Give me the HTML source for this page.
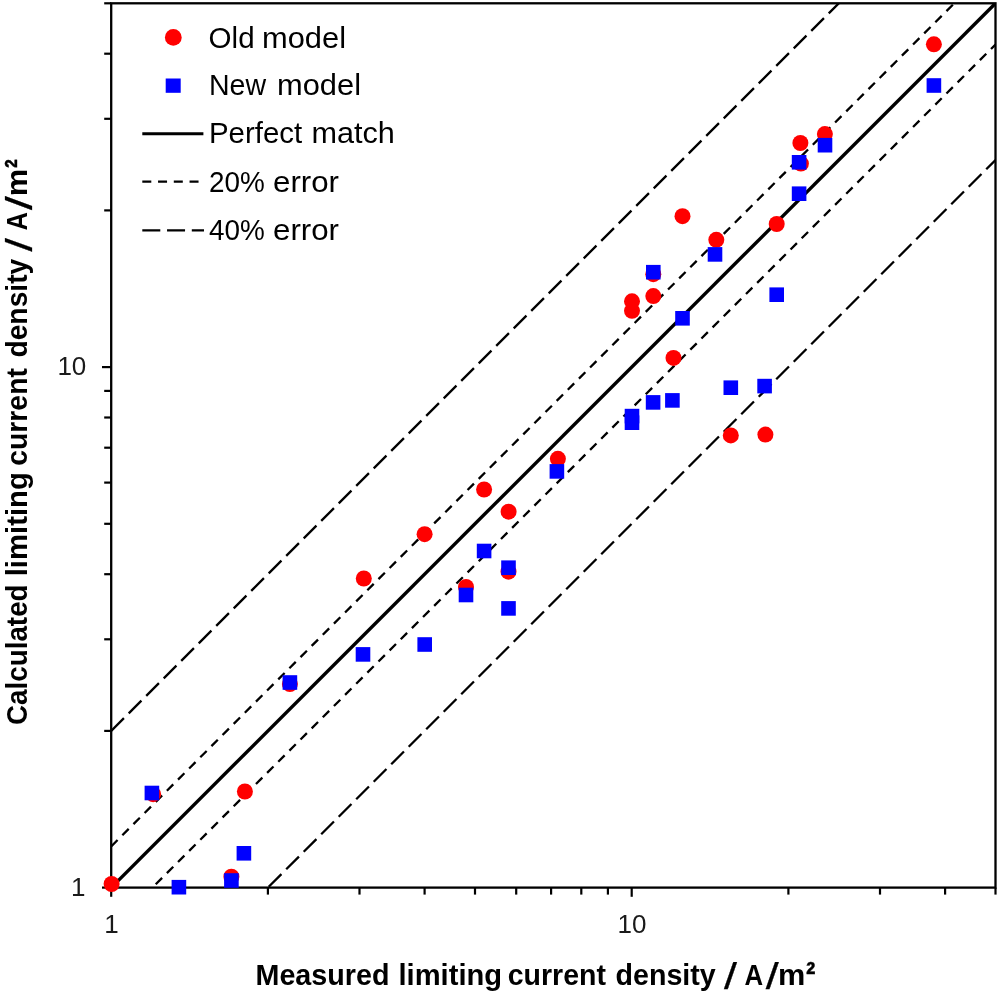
<!DOCTYPE html>
<html lang="en">
<head>
<meta charset="utf-8">
<title>Calculated vs measured limiting current density</title>
<style>
html,body{margin:0;padding:0;background:#fff;}
body{width:1000px;height:994px;overflow:hidden;}
svg{display:block;}
text{font-family:"Liberation Sans",sans-serif;}
.tick{font-size:26px;fill:#1a1a1a;}
.leg{font-size:29px;fill:#000;}
.ttl{font-size:29.5px;font-weight:bold;fill:#000;}
.sl{font-size:36px;font-weight:normal;fill:#000;stroke:#000;stroke-width:0.25px;}
.sup{font-size:34px;font-weight:bold;fill:#000;stroke:#000;stroke-width:0.4px;}
</style>
</head>
<body>
<svg width="1000" height="994" viewBox="0 0 1000 994">
<rect x="0" y="0" width="1000" height="994" fill="#fff"/>
<rect x="111.2" y="3.3" width="884.3" height="884.3" fill="none" stroke="#000" stroke-width="2.3"/>
<g stroke="#000" stroke-width="2.2" fill="none">
<line x1="111.2" y1="887.6" x2="111.2" y2="896.8"/><line x1="111.2" y1="887.6" x2="102.0" y2="887.6"/>
<line x1="267.9" y1="887.6" x2="267.9" y2="894.6"/><line x1="111.2" y1="730.9" x2="104.2" y2="730.9"/>
<line x1="359.5" y1="887.6" x2="359.5" y2="894.6"/><line x1="111.2" y1="639.3" x2="104.2" y2="639.3"/>
<line x1="424.6" y1="887.6" x2="424.6" y2="894.6"/><line x1="111.2" y1="574.2" x2="104.2" y2="574.2"/>
<line x1="475.0" y1="887.6" x2="475.0" y2="894.6"/><line x1="111.2" y1="523.8" x2="104.2" y2="523.8"/>
<line x1="516.2" y1="887.6" x2="516.2" y2="894.6"/><line x1="111.2" y1="482.6" x2="104.2" y2="482.6"/>
<line x1="551.1" y1="887.6" x2="551.1" y2="894.6"/><line x1="111.2" y1="447.7" x2="104.2" y2="447.7"/>
<line x1="581.3" y1="887.6" x2="581.3" y2="894.6"/><line x1="111.2" y1="417.5" x2="104.2" y2="417.5"/>
<line x1="607.9" y1="887.6" x2="607.9" y2="894.6"/><line x1="111.2" y1="390.9" x2="104.2" y2="390.9"/>
<line x1="631.7" y1="887.6" x2="631.7" y2="896.8"/><line x1="111.2" y1="367.1" x2="102.0" y2="367.1"/>
<line x1="788.4" y1="887.6" x2="788.4" y2="894.6"/><line x1="111.2" y1="210.4" x2="104.2" y2="210.4"/>
<line x1="880.0" y1="887.6" x2="880.0" y2="894.6"/><line x1="111.2" y1="118.8" x2="104.2" y2="118.8"/>
<line x1="945.1" y1="887.6" x2="945.1" y2="894.6"/><line x1="111.2" y1="53.7" x2="104.2" y2="53.7"/>
<line x1="995.5" y1="887.6" x2="995.5" y2="894.6"/><line x1="111.2" y1="3.3" x2="104.2" y2="3.3"/>
</g>
<clipPath id="pc"><rect x="111.2" y="3.3" width="884.3" height="884.3"/></clipPath>
<g clip-path="url(#pc)" stroke="#000" fill="none">
<line x1="111.2" y1="887.6" x2="995.5" y2="3.3" stroke-width="3.4"/>
<line x1="111.2" y1="846.4" x2="995.5" y2="-37.9" stroke-width="2.3" stroke-dasharray="9 6.75"/>
<line x1="111.2" y1="928.8" x2="995.5" y2="44.5" stroke-width="2.3" stroke-dasharray="9 6.75"/>
<line x1="111.2" y1="730.9" x2="995.5" y2="-153.4" stroke-width="2.3" stroke-dasharray="18 6.75"/>
<line x1="111.2" y1="1044.3" x2="995.5" y2="160.0" stroke-width="2.3" stroke-dasharray="18 6.75"/>
</g>
<g fill="#ff0000">
<circle cx="111.6" cy="884" r="8"/><circle cx="153.1" cy="794.2" r="8"/><circle cx="244.9" cy="791.5" r="8"/><circle cx="231.4" cy="876.7" r="8"/><circle cx="289.9" cy="684.1" r="8"/><circle cx="363.8" cy="578.5" r="8"/><circle cx="424.6" cy="534.2" r="8"/><circle cx="466" cy="587" r="8"/><circle cx="484.1" cy="489.5" r="8"/><circle cx="508.6" cy="511.7" r="8"/><circle cx="508.5" cy="571.7" r="8"/><circle cx="557.9" cy="458.8" r="8"/><circle cx="632" cy="301.3" r="8"/><circle cx="632" cy="310.8" r="8"/><circle cx="653.3" cy="274.2" r="8"/><circle cx="653.3" cy="296.1" r="8"/><circle cx="673.5" cy="357.9" r="8"/><circle cx="682.5" cy="216.2" r="8"/><circle cx="716.3" cy="239.8" r="8"/><circle cx="730.8" cy="435.4" r="8"/><circle cx="765.4" cy="434.6" r="8"/><circle cx="776.7" cy="224" r="8"/><circle cx="800.4" cy="143" r="8"/><circle cx="800.9" cy="163.6" r="8"/><circle cx="824.9" cy="134.1" r="8"/><circle cx="933.9" cy="44.3" r="8"/>
</g>
<g fill="#0000ff">
<rect x="144.6" y="785.7" width="14.6" height="14.6"/><rect x="171.6" y="879.9" width="14.6" height="14.6"/><rect x="224.1" y="873.2" width="14.6" height="14.6"/><rect x="236.6" y="846.0" width="14.6" height="14.6"/><rect x="282.6" y="675.2" width="14.6" height="14.6"/><rect x="355.7" y="647.1" width="14.6" height="14.6"/><rect x="417.4" y="637.2" width="14.6" height="14.6"/><rect x="458.7" y="587.7" width="14.6" height="14.6"/><rect x="476.8" y="543.7" width="14.6" height="14.6"/><rect x="501.2" y="560.4" width="14.6" height="14.6"/><rect x="501.2" y="601.1" width="14.6" height="14.6"/><rect x="549.6" y="464.1" width="14.6" height="14.6"/><rect x="624.7" y="408.8" width="14.6" height="14.6"/><rect x="624.7" y="415.4" width="14.6" height="14.6"/><rect x="645.8" y="395.1" width="14.6" height="14.6"/><rect x="665.1" y="393.1" width="14.6" height="14.6"/><rect x="675.2" y="311.0" width="14.6" height="14.6"/><rect x="646.0" y="264.9" width="14.6" height="14.6"/><rect x="707.7" y="247.1" width="14.6" height="14.6"/><rect x="723.5" y="380.4" width="14.6" height="14.6"/><rect x="757.3" y="378.8" width="14.6" height="14.6"/><rect x="769.4" y="287.4" width="14.6" height="14.6"/><rect x="791.8" y="155.0" width="14.6" height="14.6"/><rect x="791.8" y="186.4" width="14.6" height="14.6"/><rect x="817.7" y="137.9" width="14.6" height="14.6"/><rect x="926.6" y="78.2" width="14.6" height="14.6"/>
</g>
<circle cx="173.3" cy="37.4" r="8.4" fill="#ff0000"/>
<rect x="165.7" y="78.5" width="15" height="14.3" fill="#0000ff"/>
<line x1="142.3" y1="133.8" x2="203.4" y2="133.8" stroke="#000" stroke-width="3"/>
<line x1="142.3" y1="181.7" x2="199" y2="181.7" stroke="#000" stroke-width="2.3" stroke-dasharray="9 6.75"/>
<line x1="142.3" y1="230.3" x2="204" y2="230.3" stroke="#000" stroke-width="2.3" stroke-dasharray="18 6.75"/>
<text><tspan class="leg" x="208.6" y="47.9" textLength="46.0" lengthAdjust="spacingAndGlyphs">Old</tspan> <tspan class="leg" x="262.0" y="47.9" textLength="84.0" lengthAdjust="spacingAndGlyphs">model</tspan></text>
<text><tspan class="leg" x="209.0" y="95.2" textLength="57.1" lengthAdjust="spacingAndGlyphs">New</tspan> <tspan class="leg" x="277.0" y="95.2" textLength="84.0" lengthAdjust="spacingAndGlyphs">model</tspan></text>
<text><tspan class="leg" x="209.0" y="143.2" textLength="93.2" lengthAdjust="spacingAndGlyphs">Perfect</tspan> <tspan class="leg" x="311.4" y="143.2" textLength="83.4" lengthAdjust="spacingAndGlyphs">match</tspan></text>
<text><tspan class="leg" x="209.0" y="191.6" textLength="55.8" lengthAdjust="spacingAndGlyphs">20%</tspan> <tspan class="leg" x="273.0" y="191.6" textLength="66.0" lengthAdjust="spacingAndGlyphs">error</tspan></text>
<text><tspan class="leg" x="209.0" y="240.2" textLength="55.8" lengthAdjust="spacingAndGlyphs">40%</tspan> <tspan class="leg" x="273.0" y="240.2" textLength="66.0" lengthAdjust="spacingAndGlyphs">error</tspan></text>
<text><tspan class="ttl" x="255.5" y="984.8" textLength="134.0" lengthAdjust="spacingAndGlyphs">Measured</tspan> <tspan class="ttl" x="398.5" y="984.8" textLength="103.6" lengthAdjust="spacingAndGlyphs">limiting</tspan> <tspan class="ttl" x="507.7" y="984.8" textLength="98.2" lengthAdjust="spacingAndGlyphs">current</tspan> <tspan class="ttl" x="615.5" y="984.8" textLength="100.2" lengthAdjust="spacingAndGlyphs">density</tspan> <tspan class="sl" x="724.0" y="989" textLength="13.0" lengthAdjust="spacingAndGlyphs">/</tspan> <tspan class="ttl" x="744.5" y="984.8" textLength="18.6" lengthAdjust="spacingAndGlyphs">A</tspan><tspan class="sl" x="765.7" y="989" textLength="13.0" lengthAdjust="spacingAndGlyphs">/</tspan><tspan class="ttl" x="778.0" y="984.8" textLength="27.3" lengthAdjust="spacingAndGlyphs">m</tspan><tspan class="sup" x="806.0" y="986.2" textLength="9.4" lengthAdjust="spacingAndGlyphs">²</tspan></text>
<text transform="rotate(-90)"><tspan class="ttl" x="-725.1" y="27.3" textLength="140.7" lengthAdjust="spacingAndGlyphs">Calculated</tspan> <tspan class="ttl" x="-576.3" y="27.3" textLength="104.2" lengthAdjust="spacingAndGlyphs">limiting</tspan> <tspan class="ttl" x="-465.8" y="27.3" textLength="97.7" lengthAdjust="spacingAndGlyphs">current</tspan> <tspan class="ttl" x="-357.6" y="27.3" textLength="98.9" lengthAdjust="spacingAndGlyphs">density</tspan> <tspan class="sl" x="-251.4" y="31.8" textLength="13.4" lengthAdjust="spacingAndGlyphs">/</tspan> <tspan class="ttl" x="-230.6" y="27.3" textLength="18.5" lengthAdjust="spacingAndGlyphs">A</tspan><tspan class="sl" x="-210.0" y="31.8" textLength="13.9" lengthAdjust="spacingAndGlyphs">/</tspan><tspan class="ttl" x="-196.3" y="27.3" textLength="27.5" lengthAdjust="spacingAndGlyphs">m</tspan><tspan class="sup" x="-168.0" y="29" textLength="8.7" lengthAdjust="spacingAndGlyphs">²</tspan></text>
<text class="tick" x="85.4" y="895.9" text-anchor="end">1</text>
<text class="tick" x="86.3" y="375.3" text-anchor="end">10</text>
<text class="tick" x="111.6" y="933" text-anchor="middle">1</text>
<text class="tick" x="632" y="933" text-anchor="middle">10</text>
</svg>
</body>
</html>
